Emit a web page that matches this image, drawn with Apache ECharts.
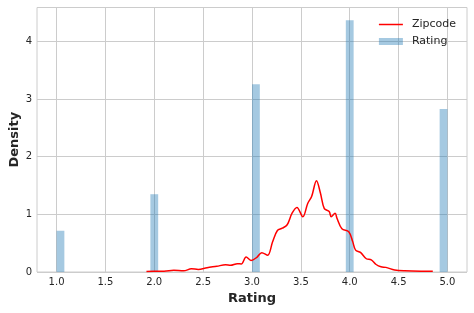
<!DOCTYPE html>
<html><head><meta charset="utf-8">
<script src="https://cdn.jsdelivr.net/npm/echarts@6/dist/echarts.min.js"></script>
<style>html,body{margin:0;padding:0;background:#fff}#c{width:474px;height:313px}</style>
</head><body><div id="c"></div>
<script>
// Histogram bins of Rating (density): [binStart, binEnd, density]
const binStarts = [1.00, 1.96, 3.00, 3.96, 4.92];
const binEnds   = [1.08, 2.04, 3.08, 4.04, 5.00];
const binDensity = [0.716, 1.35, 3.26, 4.37, 2.83];
// KDE curve (Zipcode)
const kdeX = [1.92,2.0,2.1,2.2,2.3,2.38,2.45,2.54,2.64,2.73,2.78,2.85,2.89,2.94,2.99,3.05,3.10,3.16,3.21,3.26,3.31,3.36,3.41,3.46,3.52,3.57,3.61,3.66,3.70,3.74,3.79,3.81,3.85,3.87,3.92,3.99,4.03,4.06,4.11,4.17,4.22,4.27,4.32,4.37,4.46,4.56,4.73,4.85];
const kdeY = [0.01,0.015,0.015,0.03,0.02,0.055,0.045,0.075,0.10,0.125,0.115,0.145,0.14,0.26,0.20,0.255,0.335,0.29,0.52,0.72,0.76,0.82,1.02,1.12,0.96,1.19,1.31,1.585,1.37,1.10,1.05,0.96,1.02,0.93,0.75,0.70,0.53,0.38,0.34,0.23,0.21,0.13,0.09,0.08,0.035,0.02,0.015,0.015];
const xTicks = [1.0,1.5,2.0,2.5,3.0,3.5,4.0,4.5,5.0];

const font = 'DejaVu Sans';
const txt = '#262626';
const chart = echarts.init(document.getElementById('c'));
chart.setOption({
  animation: false,
  grid: {left: 37, right: 7, top: 7.5, bottom: 41, show: true, borderColor: '#cccccc', borderWidth: 1,
    containLabel: false, outerBoundsMode: 'none'},
  legend: {
    right: 13, top: 14, orient: 'vertical', itemGap: 6, itemWidth: 28, itemHeight: 7,
    textStyle: {fontFamily: font, fontSize: 11, color: txt},
    data: [
      {name: 'Zipcode', icon: 'path://M0,2.75L24,2.75L24,4.25L0,4.25Z M0,0 M28,7'},
      {name: 'Rating', icon: 'path://M0,0L24,0L24,7L0,7Z M28,7'}
    ]
  },
  xAxis: {
    type: 'value', min: 0.8, max: 5.2,
    name: 'Rating', nameLocation: 'middle', nameGap: 20, nameMoveOverlap: false,
    nameTextStyle: {fontFamily: font, fontSize: 13, fontWeight: 'bold', color: txt},
    axisLine: {show: false},
    axisTick: {show: false, customValues: xTicks},
    axisLabel: {customValues: xTicks, fontFamily: font, fontSize: 10, color: txt, margin: 5,
      formatter: v => v.toFixed(1)},
    splitLine: {show: true, lineStyle: {color: '#cccccc', width: 1}}
  },
  yAxis: {
    type: 'value', min: 0, max: 4.59, interval: 1,
    name: 'Density', nameLocation: 'middle', nameGap: 16, nameMoveOverlap: false,
    nameTextStyle: {fontFamily: font, fontSize: 13, fontWeight: 'bold', color: txt},
    axisLine: {show: false}, axisTick: {show: false},
    axisLabel: {fontFamily: font, fontSize: 10, color: txt, margin: 5, showMaxLabel: false},
    splitLine: {show: true, lineStyle: {color: '#cccccc', width: 1}}
  },
  series: [
    {
      name: 'Rating', type: 'custom',
      itemStyle: {color: 'rgba(31,119,180,0.4)'},
      data: binStarts.map((s, i) => [s, binEnds[i], binDensity[i]]),
      encode: {x: [0, 1], y: 2},
      renderItem: function (params, api) {
        const p0 = api.coord([api.value(0), api.value(2)]);
        const p1 = api.coord([api.value(1), 0]);
        return {type: 'rect', shape: {x: p0[0], y: p0[1], width: p1[0] - p0[0], height: p1[1] - p0[1]},
          style: {fill: 'rgba(31,119,180,0.4)'}};
      },
      z: 2
    },
    {
      name: 'Zipcode', type: 'line', symbol: 'none', smooth: 0.35,
      data: kdeX.map((x, i) => [x, kdeY[i]]),
      lineStyle: {color: '#ff0000', width: 1.5},
      itemStyle: {color: '#ff0000'},
      z: 3
    }
  ]
});
</script></body></html>
